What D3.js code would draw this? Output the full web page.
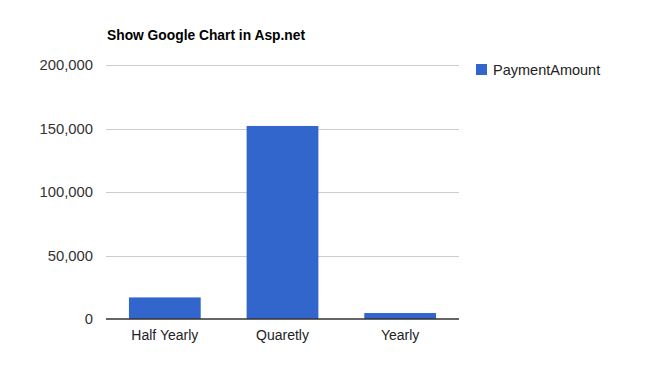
<!DOCTYPE html>
<html lang="en">
<head>
  <meta charset="UTF-8">
  <title>Show Google Chart in Asp.net</title>
  <script src="https://d3js.org/d3.v7.min.js"></script>
  <style>
    body { margin: 0; background: #fff; }
    svg { font-family: "Liberation Sans", Arial, sans-serif; }
    .title { font-size: 13.8px; font-weight: bold; fill: #000; }
    .y-axis .tick text { font-size: 14.8px; fill: #333; }
    .x-axis .tick text { font-size: 14px; fill: #222; }
    .legend text { font-size: 14.5px; fill: #222; }
  </style>
</head>
<body>
  <svg width="650" height="369"></svg>
  <script>
    // data
    const categories = ["Half Yearly", "Quaretly", "Yearly"];
    const paymentAmount = [17000, 152000, 4700];
    const yTicks = [0, 50000, 100000, 150000, 200000];
    const seriesName = "PaymentAmount";

    const svg = d3.select("svg");
    const margin = { left: 106, right: 191, top: 65, bottom: 50 };
    const width = 650 - margin.left - margin.right;
    const height = 369 - margin.top - margin.bottom;

    const g = svg.append("g")
      .attr("transform", `translate(${margin.left},${margin.top})`);

    const x = d3.scaleBand()
      .domain(categories)
      .range([0, width])
      .paddingInner(0.39)
      .paddingOuter(0.195);

    const y = d3.scaleLinear()
      .domain([0, 200000])
      .range([height, 0]);

    // gridlines + y labels
    const yAxis = g.append("g")
      .attr("class", "y-axis")
      .call(d3.axisLeft(y).tickValues(yTicks).tickSize(0).tickPadding(13)
        .tickFormat(d3.format(",")));
    yAxis.select(".domain").remove();

    g.append("g").selectAll("line")
      .data(yTicks.filter(d => d > 0))
      .join("line")
      .attr("x1", 0).attr("x2", width)
      .attr("y1", d => Math.round(y(d)) + 0.5)
      .attr("y2", d => Math.round(y(d)) + 0.5)
      .attr("stroke", "#ccc");

    // bars
    g.selectAll("rect.bar")
      .data(paymentAmount)
      .join("rect")
      .attr("class", "bar")
      .attr("x", (d, i) => x(categories[i]))
      .attr("width", x.bandwidth())
      .attr("y", d => y(d))
      .attr("height", d => height - y(d))
      .attr("fill", "#3366cc");

    // baseline
    g.append("line")
      .attr("x1", 0).attr("x2", width)
      .attr("y1", height).attr("y2", height)
      .attr("stroke", "#333").attr("stroke-width", 1.5);

    // x labels
    const xAxis = g.append("g")
      .attr("class", "x-axis")
      .attr("transform", `translate(0,${height})`)
      .call(d3.axisBottom(x).tickSize(0).tickPadding(11));
    xAxis.select(".domain").remove();

    // title
    svg.append("text")
      .attr("class", "title")
      .attr("x", 107).attr("y", 40)
      .text("Show Google Chart in Asp.net");

    // legend
    const legend = svg.append("g").attr("class", "legend")
      .attr("transform", "translate(476,64)");
    legend.append("rect")
      .attr("width", 11).attr("height", 11)
      .attr("fill", "#3366cc");
    legend.append("text")
      .attr("x", 17).attr("y", 11)
      .text(seriesName);
  </script>
</body>
</html>
